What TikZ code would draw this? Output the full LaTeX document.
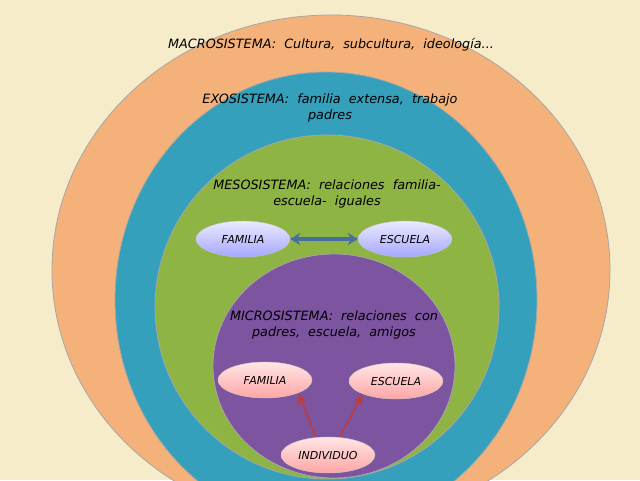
\documentclass[tikz,border=0pt]{standalone}
\usepackage{fontspec}
\setmainfont{DejaVu Sans}
\usetikzlibrary{shapes.geometric,arrows.meta}
\begin{document}
\begin{tikzpicture}[x=1pt,y=-1pt,
  ring/.style={draw=black!35,line width=0.8pt},
  lbl/.style={font=\itshape\fontsize{12.8}{16}\selectfont,align=center,text=black},
  bub/.style={ellipse,draw=black!25,minimum width=94pt,minimum height=36pt,font=\itshape\fontsize{11}{12}\selectfont},
  blu/.style={bub,top color=white!60!blue!20,bottom color=blue!35!white,fill=blue!20},
  pnk/.style={bub,top color=red!10,bottom color=red!35,fill=red!20},
  rarr/.style={-{Stealth[length=12pt,width=10pt]},line width=1.6pt,color={rgb,255:red,190;green,60;blue,60}}]
\useasboundingbox (0,0) rectangle (640,480);
\fill[color={rgb,255:red,246;green,236;blue,202}] (0,0) rectangle (640,480);
\begin{scope}
\clip (0,0) rectangle (640,480);
\fill[ring,fill={rgb,255:red,244;green,178;blue,122}] (331,270) ellipse (279 and 255);
\fill[ring,fill={rgb,255:red,52;green,160;blue,188}] (326,300) ellipse (211 and 228);
\fill[ring,fill={rgb,255:red,142;green,180;blue,68}] (327,307) ellipse (172 and 172);
\fill[ring,fill={rgb,255:red,124;green,84;blue,160}] (334,366) ellipse (121 and 112);
\end{scope}
\node[lbl] (t1) at (331,45) {MACROSISTEMA:\ \ Cultura,\ \ subcultura,\ \ ideología...};
\node[lbl] (t2) at (330,108) {EXOSISTEMA:\ \ familia\ \ extensa,\ \ trabajo\\padres};
\node[lbl] (t3) at (327,194) {MESOSISTEMA:\ \ relaciones\ \ familia-\\escuela-\ \ iguales};
\node[lbl] (t4) at (334,325) {MICROSISTEMA:\ \ relaciones\ \ con\\padres,\ \ escuela,\ \ amigos};
\node[blu] (mf) at (243,239) {FAMILIA};
\node[blu] (me) at (405,239) {ESCUELA};
\node[pnk] (uf) at (265,380) {FAMILIA};
\node[pnk] (ue) at (396,381) {ESCUELA};
\node[pnk] (ui) at (328,455) {INDIVIDUO};
\draw[{Stealth[length=10pt,width=12pt]}-{Stealth[length=10pt,width=12pt]},line width=3.5pt,color={rgb,255:red,70;green,110;blue,160}] (mf) -- (me);
\draw[rarr] (ui.north) ++(-12,0) -- (uf.south east);
\draw[rarr] (ui.north) ++(12,0) -- (ue.south west);
\end{tikzpicture}
\end{document}
